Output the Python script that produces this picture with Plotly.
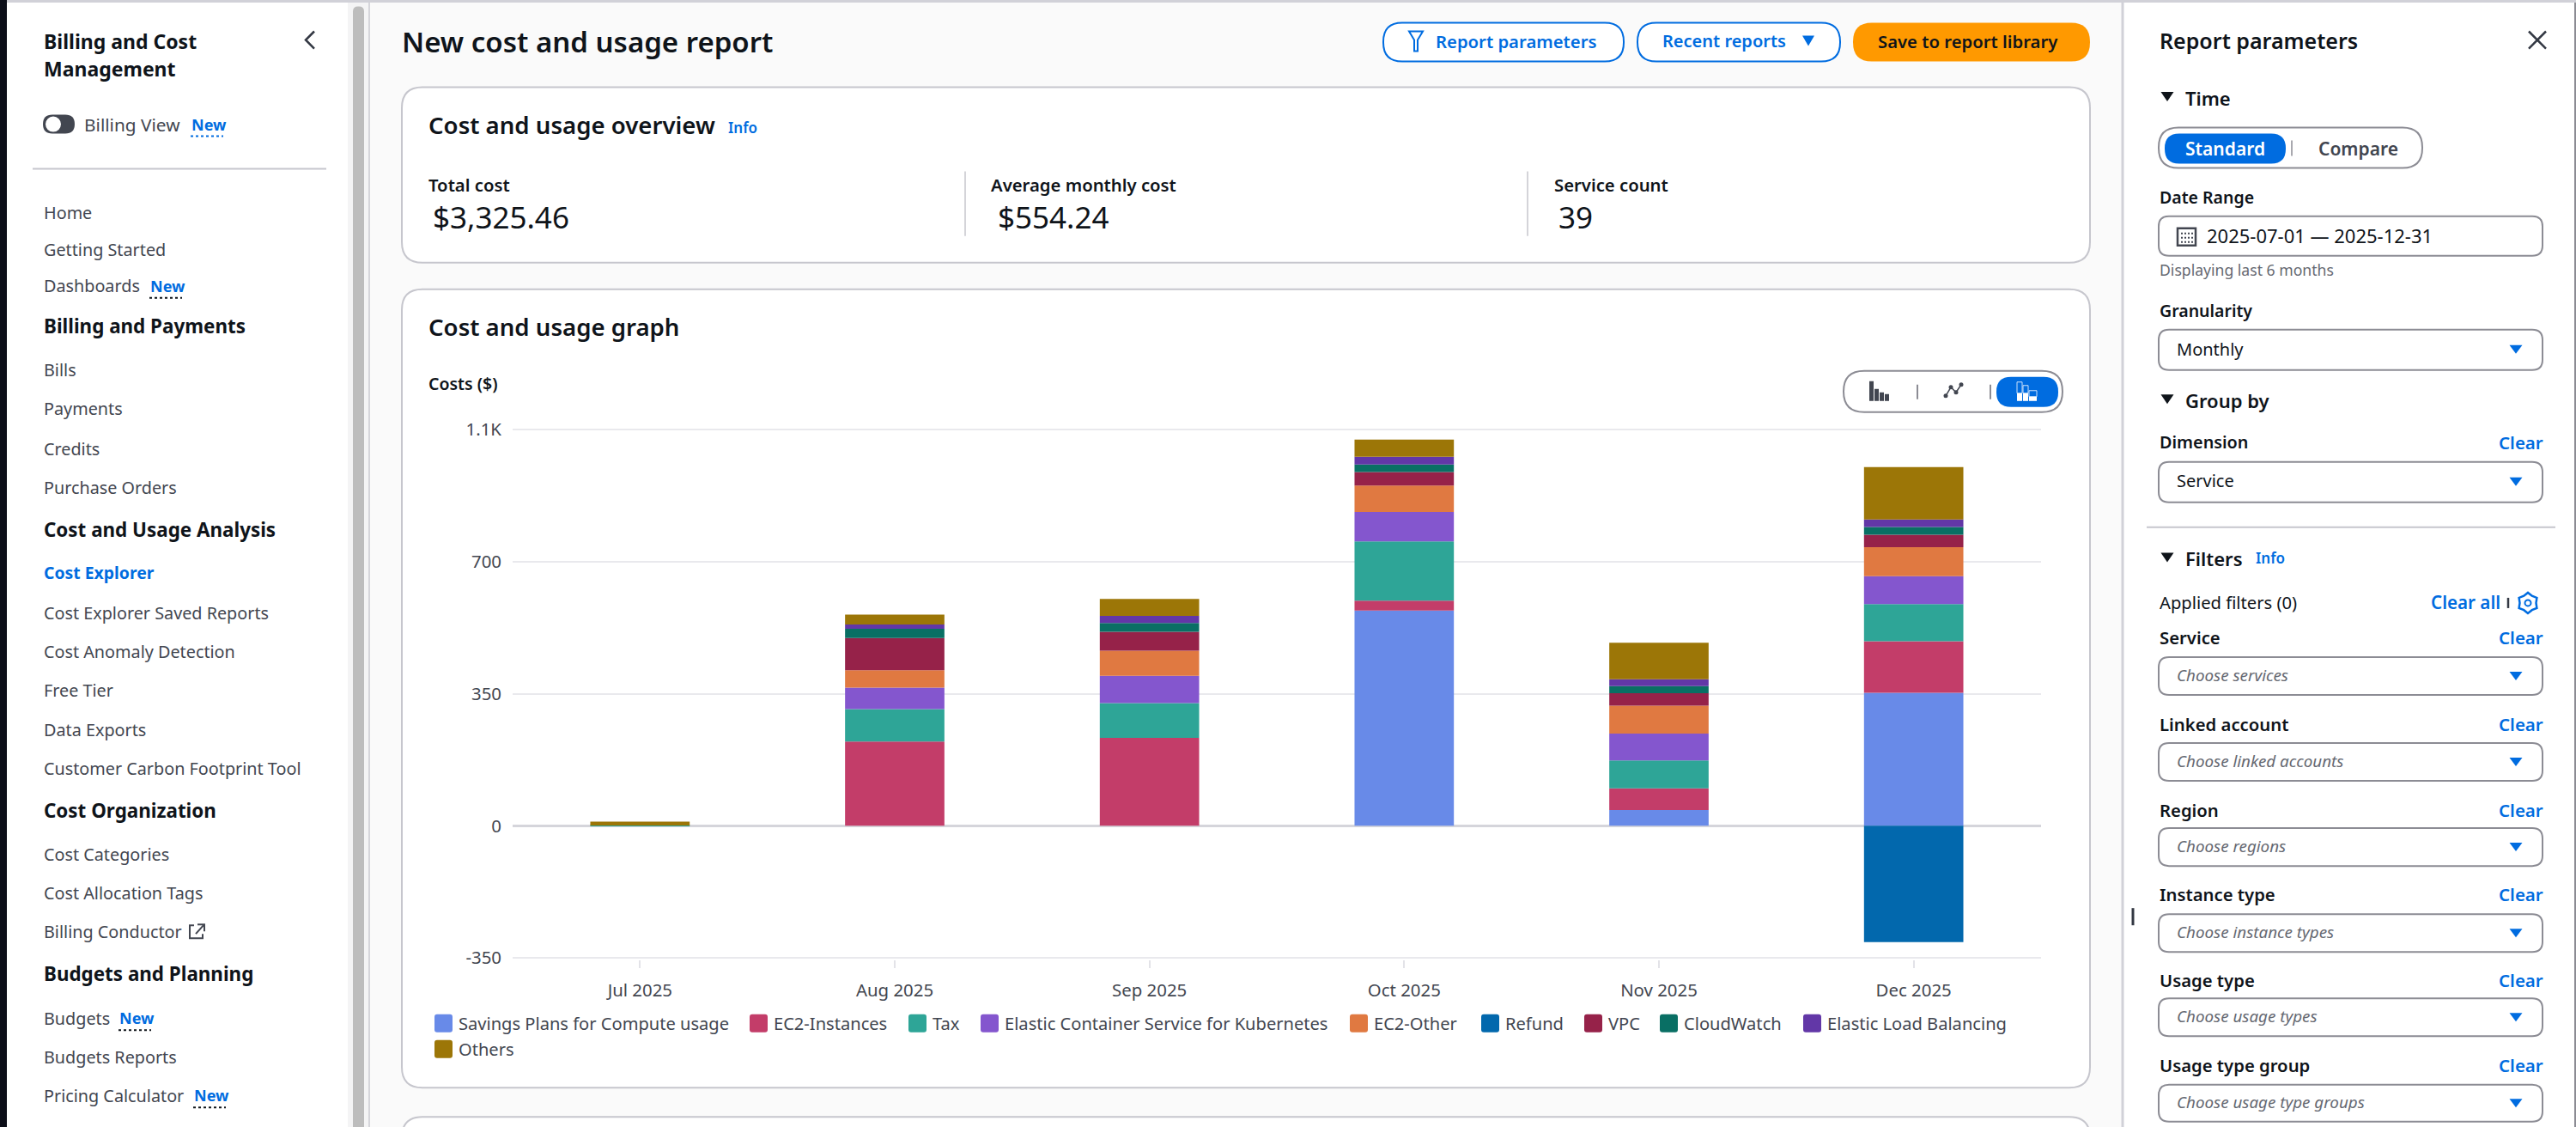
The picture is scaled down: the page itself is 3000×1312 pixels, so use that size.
import math
import plotly.graph_objects as go

# ---------- data ----------
months = ["Jul 2025", "Aug 2025", "Sep 2025", "Oct 2025", "Nov 2025", "Dec 2025"]
savings_plans = [0, 0, 0, 570, 42, 352]
ec2_instances = [0, 223, 233, 26, 57, 137]
tax = [1, 86, 92, 157, 74, 98]
eks = [0, 57, 72, 78, 71, 74]
ec2_other = [0, 46, 67, 70, 74, 77]
refund = [0, 0, 0, 0, 0, -308]
vpc = [0, 85, 50, 36, 33, 33]
cloudwatch = [0, 25, 23, 20, 19, 20]
elb = [0, 11, 19, 20, 18, 20]
others = [10, 26, 45, 46, 97, 139]
y_ticks = [-350, 0, 350, 700, 1050]
y_tick_labels = ["-350", "0", "350", "700", "1.1K"]

series_names = ["Savings Plans for Compute usage", "EC2-Instances", "Tax",
                "Elastic Container Service for Kubernetes", "EC2-Other", "Refund",
                "VPC", "CloudWatch", "Elastic Load Balancing", "Others"]
series_values = [savings_plans, ec2_instances, tax, eks, ec2_other, refund,
                 vpc, cloudwatch, elb, others]

# ---------- style ----------
series_colors = ["#688ae8", "#c33d69", "#2ea597", "#8456ce", "#e07941", "#0268ad",
                 "#962249", "#096f64", "#6237a7", "#9c7607"]
FONT = "Noto Sans"
W, H = 3000, 1312
PL, PR, PT, PB = 597, 2377, 498.2, 1116.8
INK, NAV, BLUE, GREY = "#0f141a", "#424650", "#006ce0", "#656871"
BORDER = "#c6c6cd"

def X(px): return (px - PL) / (PR - PL)
def Y(py): return (PB - py) / (PB - PT)

shapes, notes = [], []

def rect(x0, y0, x1, y1, fill, line=None, lw=0, layer="below"):
    shapes.append(dict(type="rect", xref="paper", yref="paper", layer=layer,
                       x0=X(x0), x1=X(x1), y0=Y(y0), y1=Y(y1), fillcolor=fill,
                       line=dict(color=line or fill, width=lw)))

def path(d_points, fill="rgba(0,0,0,0)", line=None, lw=0, close=True):
    s = "M" + " L".join(f"{X(a):.5f},{Y(b):.5f}" for a, b in d_points) + (" Z" if close else "")
    shapes.append(dict(type="path", xref="paper", yref="paper", layer="below", path=s,
                       fillcolor=fill, line=dict(color=line or "rgba(0,0,0,0)", width=lw)))

def rrect(x0, y0, x1, y1, r, fill="#ffffff", line=None, lw=0):
    p = lambda a, b: f"{X(a):.5f},{Y(b):.5f}"
    s = (f"M{p(x0+r,y0)} L{p(x1-r,y0)} Q{p(x1,y0)} {p(x1,y0+r)} L{p(x1,y1-r)} Q{p(x1,y1)} {p(x1-r,y1)} "
         f"L{p(x0+r,y1)} Q{p(x0,y1)} {p(x0,y1-r)} L{p(x0,y0+r)} Q{p(x0,y0)} {p(x0+r,y0)} Z")
    shapes.append(dict(type="path", xref="paper", yref="paper", layer="below", path=s,
                       fillcolor=fill, line=dict(color=line or "rgba(0,0,0,0)", width=lw)))

def seg(x0, y0, x1, y1, color, lw=2, dash=None):
    shapes.append(dict(type="line", xref="paper", yref="paper", layer="below",
                       x0=X(x0), x1=X(x1), y0=Y(y0), y1=Y(y1),
                       line=dict(color=color, width=lw, dash=dash or "solid")))

def circ(cx, cy, r, fill="rgba(0,0,0,0)", line=None, lw=0):
    shapes.append(dict(type="circle", xref="paper", yref="paper", layer="below",
                       x0=X(cx - r), x1=X(cx + r), y0=Y(cy + r), y1=Y(cy - r), fillcolor=fill,
                       line=dict(color=line or "rgba(0,0,0,0)", width=lw)))

def tri(cx, cy, color, w=15, h=10):
    path([(cx - w/2, cy - h/2), (cx + w/2, cy - h/2), (cx, cy + h/2)], fill=color)

def txt(x, y, s, size=20, color=INK, weight=400, anchor="left", style="normal"):
    notes.append(dict(xref="paper", yref="paper", x=X(x), y=Y(y), text=s, showarrow=False,
                      xanchor=anchor, yanchor="middle", borderpad=0, borderwidth=0,
                      font=dict(family=FONT, size=size, color=color, weight=weight, style=style)))

# ---------- page frame ----------
rect(0, 0, 8, H, "#0c0e18")
rect(8, 0, 405, H, "#ffffff")
rect(405, 0, 430, H, "#f4f4f5")
rrect(411, 8, 424, H + 20, 6, fill="#bdbdbd")
seg(430, 0, 430, H, "#d6d6db", 2)
rect(2472, 0, W, H, "#ffffff")
seg(2472, 0, 2472, H, "#d1d1d8", 3)
seg(2999, 0, 2999, H, "#8c8c94", 2)
seg(8, 2, W, 2, "#d1d1d8", 3)

# ---------- left navigation ----------
txt(51, 48, "Billing and Cost", 23, INK, 700)
txt(51, 80, "Management", 23, INK, 700)
path([(366, 37), (356, 47), (366, 57)], line="#333843", lw=2.5, close=False)
rrect(50, 134, 87, 156, 11, fill="#424650")
circ(62, 145, 9, fill="#ffffff")
txt(98, 145, "Billing View", 20.8, NAV)

def new_tag(x, y, dash_color):
    txt(x, y, "New", 18, BLUE, 700)
    seg(x - 1, y + 14, x + 37, y + 14, dash_color, 2, "3px,3px")

new_tag(223, 145, BLUE)
seg(38, 197, 380, 197, "#c6c6cd", 2)

nav_plain = [("Home", 248), ("Getting Started", 291), ("Dashboards", 333), ("Bills", 431),
             ("Payments", 476), ("Credits", 523), ("Purchase Orders", 568),
             ("Cost Explorer Saved Reports", 714), ("Cost Anomaly Detection", 759),
             ("Free Tier", 804), ("Data Exports", 849), ("Customer Carbon Footprint Tool", 894),
             ("Cost Categories", 994), ("Cost Allocation Tags", 1039),
             ("Billing Conductor", 1084), ("Budgets", 1185), ("Budgets Reports", 1230),
             ("Pricing Calculator", 1275)]
for label, y in nav_plain:
    txt(51, y, label, 19.8, NAV)
nav_bold = [("Billing and Payments", 380), ("Cost and Usage Analysis", 617),
            ("Cost Organization", 943), ("Budgets and Planning", 1133)]
for label, y in nav_bold:
    txt(51, y, label, 22.4, INK, 700)
txt(51, 667, "Cost Explorer", 19.4, BLUE, 700)
new_tag(175, 333, "#0f141a")
new_tag(139, 1185, "#0f141a")
new_tag(226, 1275, "#0f141a")
path([(226, 1077), (221, 1077), (221, 1092), (236, 1092), (236, 1087)], line=NAV, lw=2, close=False)
path([(228, 1087), (237, 1077)], line=NAV, lw=2, close=False)
path([(230, 1076), (238, 1076), (238, 1084)], line=NAV, lw=2, close=False)

# ---------- main header ----------
txt(468, 49, "New cost and usage report", 33, INK, 600)
rrect(1611, 27, 1891, 72, 22, fill="#ffffff", line=BLUE, lw=2)
path([(1641, 37), (1657, 37), (1651, 47), (1651, 60), (1647, 60), (1647, 47)], line=BLUE, lw=2)
txt(1672, 48, "Report parameters", 20.3, BLUE, 600)
rrect(1907, 27, 2143, 72, 22, fill="#ffffff", line=BLUE, lw=2)
txt(1936, 48, "Recent reports", 20, BLUE, 600)
tri(2106, 48, BLUE, 14, 12)
rrect(2158, 27, 2434, 72, 22, fill="#ff9900")
txt(2187, 48, "Save to report library", 20.3, INK, 600)

# ---------- overview card ----------
rrect(468, 102, 2434, 306, 24, line=BORDER, lw=2)
txt(499, 145, "Cost and usage overview", 27.6, INK, 600)
txt(848, 149, "Info", 17, BLUE, 600)
for x, label, value, vx in [(499, "Total cost", "$3,325.46", 504),
                            (1154, "Average monthly cost", "$554.24", 1162),
                            (1810, "Service count", "39", 1815)]:
    txt(x, 215, label, 20.3, INK, 600)
    txt(vx, 253, value, 35, INK, 400)
seg(1124, 200, 1124, 275, BORDER, 1.5)
seg(1779, 200, 1779, 275, BORDER, 1.5)

# ---------- chart card ----------
rrect(468, 337, 2434, 1266, 24, line=BORDER, lw=2)
rrect(468, 1300, 2434, H + 40, 24, line=BORDER, lw=2)
txt(499, 380, "Cost and usage graph", 27.6, INK, 600)
txt(499, 447, "Costs ($)", 19.5, INK, 600)

rrect(2147, 432, 2402, 480, 24, fill="#ffffff", line="#8c8c94", lw=2)
rrect(2325, 439, 2397, 474, 17, fill=BLUE)
seg(2233, 448, 2233, 465, "#8c8c94", 2)
seg(2318, 448, 2318, 465, "#8c8c94", 2)
for x, top in [(2177, 444), (2183, 453), (2189, 457), (2195, 459)]:
    rect(x, top, x + 5, 467, "#424650")
line_pts = [(2266, 461), (2272, 451), (2278, 457), (2284, 448)]
path(line_pts, line="#424650", lw=1.5, close=False)
for px, py in line_pts:
    circ(px, py, 2.5, fill="#424650")
for x0, x1, top, solid, base in [(2349, 2355, 445, 458, 467), (2356, 2362, 449, 458, 467),
                                 (2363, 2372, 455, 462, 467)]:
    rect(x0, top, x1, solid, "rgba(0,0,0,0)", "#cfe3fb", 1)
    rect(x0, solid, x1, base, "#ffffff")

# legend (swatch x per series; "Others" wraps to a second row)
legend_x = [506, 873, 1058, 1142, 1572, 1725, 1845, 1933, 2100, 506]
legend_y = [1191] * 9 + [1221]
for name, color, x, y in zip(series_names, series_colors, legend_x, legend_y):
    rrect(x, y - 10.5, x + 21, y + 10.5, 3, fill=color)
    txt(x + 28, y, name, 20.1, "#424650")

# ---------- right panel ----------
txt(2515, 47, "Report parameters", 25, INK, 600)
seg(2945, 37, 2965, 57, "#333843", 2.5)
seg(2965, 37, 2945, 57, "#333843", 2.5)
tri(2524, 113, INK, 15, 11)
txt(2545, 114, "Time", 22, INK, 600)
rrect(2514, 149, 2821, 196, 23, line="#8c8c94", lw=2)
rrect(2521, 156, 2662, 191, 17, fill=BLUE)
txt(2591, 173, "Standard", 21, "#ffffff", 600, "center")
seg(2669, 164, 2669, 182, "#8c8c94", 1.5)
txt(2746, 173, "Compare", 21, NAV, 600, "center")
txt(2515, 230, "Date Range", 19.5, INK, 600)
rrect(2514, 252, 2961, 298, 12, line="#8c8c94", lw=2)
rect(2536, 266, 2557, 286, "#ffffff", "#424650", 2.5)
for yy in (272, 277, 282):
    seg(2540, yy, 2554, yy, "#424650", 2, "2px,2px")
txt(2570, 274, "2025-07-01 — 2025-12-31", 22, INK)
txt(2515, 314, "Displaying last 6 months", 17.6, GREY)
txt(2515, 362, "Granularity", 19.5, INK, 600)
rrect(2514, 384, 2961, 431, 12, line="#8c8c94", lw=2)
txt(2535, 407, "Monthly", 20, INK)
tri(2930, 407, BLUE)
tri(2524, 465, INK, 15, 11)
txt(2545, 466, "Group by", 22, INK, 600)
txt(2515, 515, "Dimension", 19.8, INK, 600)
txt(2962, 515, "Clear", 20.5, BLUE, 600, "right")
rrect(2514, 538, 2961, 585, 12, line="#8c8c94", lw=2)
txt(2535, 560, "Service", 20, INK)
tri(2930, 561, BLUE)
seg(2500, 614, 2976, 614, BORDER, 2)
tri(2524, 649, INK, 15, 11)
txt(2545, 650, "Filters", 22, INK, 600)
txt(2627, 650, "Info", 17, BLUE, 600)
txt(2515, 701, "Applied filters (0)", 20.2, INK)
txt(2831, 701, "Clear all", 20.6, BLUE, 600)
seg(2921, 696, 2921, 708, "#333843", 2.5)
gear = []
for i in range(12):
    ang = math.pi / 6 * i + math.pi / 2
    rad = 12 if i % 2 == 0 else 9.5
    gear.append((2944 + rad * math.cos(ang), 702 + rad * math.sin(ang)))
path(gear, line=BLUE, lw=2.5)
circ(2944, 702, 3.5, line=BLUE, lw=2)
filter_rows = [("Service", "Choose services", 742, 765, 809),
               ("Linked account", "Choose linked accounts", 842.5, 865, 909),
               ("Region", "Choose regions", 942.5, 964, 1008),
               ("Instance type", "Choose instance types", 1041, 1064, 1108),
               ("Usage type", "Choose usage types", 1141, 1162, 1206),
               ("Usage type group", "Choose usage type groups", 1240, 1262.5, 1305.5)]
for label, hint, ly, top, bottom in filter_rows:
    txt(2515, ly, label, 20.3, INK, 600)
    txt(2962, ly, "Clear", 20.5, BLUE, 600, "right")
    rrect(2514, top, 2961, bottom, 12, line="#8c8c94", lw=2)
    txt(2535, (top + bottom) / 2 - 1, hint, 18.8, GREY, 400, "left", "italic")
    tri(2930, (top + bottom) / 2, BLUE)
seg(2484, 1057, 2484, 1077, "#333843", 3)

# ---------- chart ----------
fig = go.Figure()
for name, values, color in zip(series_names, series_values, series_colors):
    fig.add_bar(x=months, y=values, name=name, marker=dict(color=color, line=dict(width=0)),
                showlegend=False)

fig.update_layout(
    width=W, height=H, barmode="relative", bargap=0.61, showlegend=False,
    margin=dict(l=PL, r=W - PR, t=PT, b=H - PB, pad=0, autoexpand=False),
    paper_bgcolor="#fafafa", plot_bgcolor="rgba(0,0,0,0)",
    font=dict(family=FONT, size=20, color="#424650"),
    shapes=shapes, annotations=notes,
    xaxis=dict(type="category", categoryorder="array", categoryarray=months,
               ticks="outside", ticklen=9, tickwidth=2, tickcolor="#e3e3e8",
               showgrid=False, showline=False, zeroline=False,
               tickfont=dict(size=20.4, color="#424650"), ticklabelstandoff=9),
    yaxis=dict(range=[-354, 1054], tickmode="array", tickvals=y_ticks, ticktext=y_tick_labels,
               showgrid=True, gridcolor="#e9e9ed", gridwidth=2,
               zeroline=True, zerolinecolor="#d5d5db", zerolinewidth=3,
               showline=False, ticks="", tickfont=dict(size=20.4, color="#424650"),
               ticklabelstandoff=12),
)

fig.write_html("out.html", config={"displayModeBar": False},
               post_script="document.body.style.margin='0';document.body.style.overflow='hidden';")
